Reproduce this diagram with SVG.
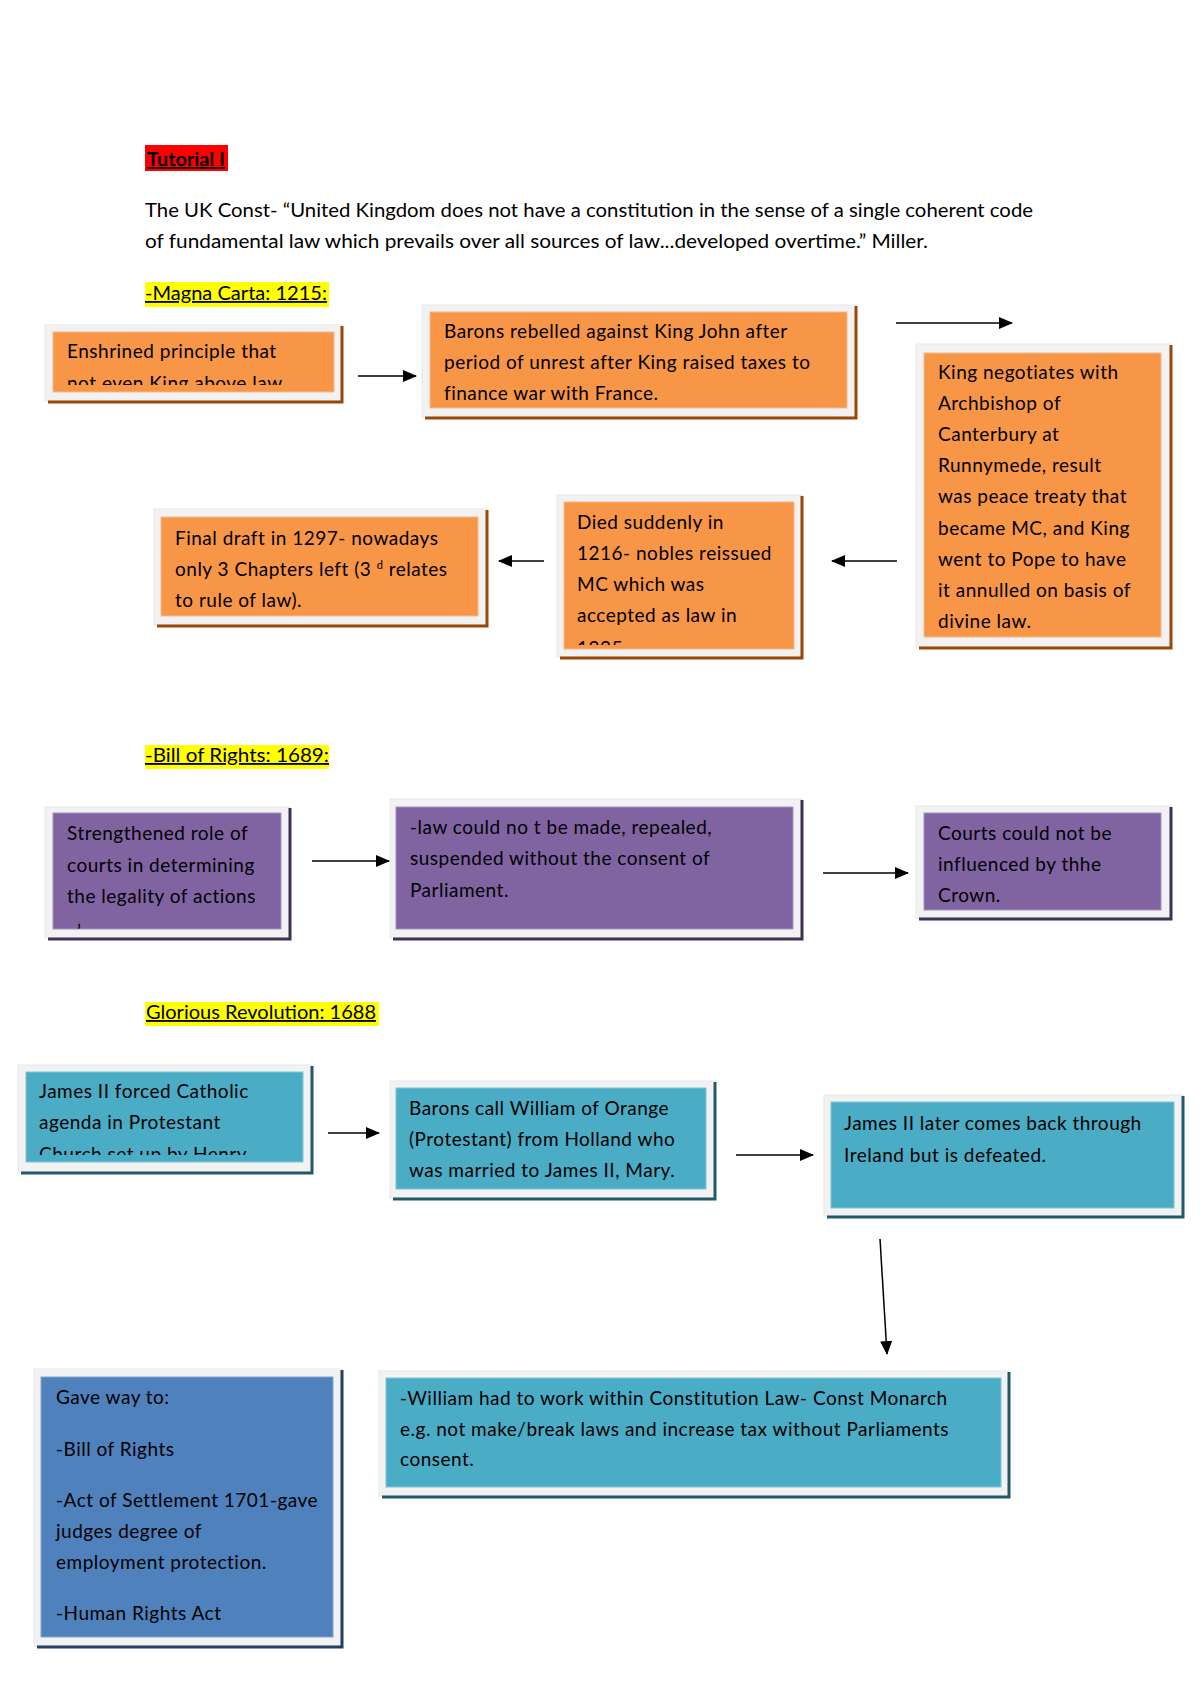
<svg xmlns="http://www.w3.org/2000/svg" width="1200" height="1698" viewBox="0 0 1200 1698">
<style>
text{font-family:Lato,"Open Sans","Liberation Sans",sans-serif;fill:#000}
.t{font-size:19px;letter-spacing:0.5px}
.h{font-size:18.5px}
.u{text-decoration:underline}
.b{font-weight:bold}
.frame{fill:#F2F2F2;stroke:#E8E8E8;stroke-width:1}
.or{fill:#F79646;stroke:#FAB88A;stroke-width:1}
.pu{fill:#8064A2;stroke:#A592BE;stroke-width:1}
.te{fill:#4BACC6;stroke:#7FC5D8;stroke-width:1}
.bl{fill:#4F81BD;stroke:#7FA3CF;stroke-width:1}
.orS{fill:none;stroke:#984807;stroke-width:3}
.puS{fill:none;stroke:#3F3151;stroke-width:3}
.teS{fill:none;stroke:#215968;stroke-width:3}
.blS{fill:none;stroke:#243F60;stroke-width:3}
.c{fill:none;stroke:#000;stroke-width:1.5;marker-end:url(#ah)}
</style>
<defs>
<marker id="ah" markerUnits="userSpaceOnUse" markerWidth="14" markerHeight="12" refX="13" refY="6" orient="auto">
<path d="M0,0 L14,6 L0,12 Z" fill="#000"/>
</marker>
<clipPath id="c1"><rect x="53" y="332" width="281" height="53"/></clipPath>
<clipPath id="c4"><rect x="564" y="502" width="230" height="143"/></clipPath>
<clipPath id="c6"><rect x="53" y="813" width="228" height="116"/></clipPath>
<clipPath id="c9"><rect x="26" y="1072" width="277" height="83"/></clipPath>
</defs>
<rect width="1200" height="1698" fill="#fff"/>

<g id="header">
<rect x="145" y="145" width="83" height="26" fill="#FF0000"/>
<text class="h b u" x="147" y="166" textLength="78" lengthAdjust="spacingAndGlyphs">Tutorial I</text>
<text class="h" x="145" y="217" textLength="888" lengthAdjust="spacingAndGlyphs">The UK Const- “United Kingdom does not have a constitution in the sense of a single coherent code</text>
<text class="h" x="145" y="248" textLength="783" lengthAdjust="spacingAndGlyphs">of fundamental law which prevails over all sources of law...developed overtime.” Miller.</text>
</g>

<g id="heading-magna">
<rect x="145" y="282" width="184" height="25" fill="#FFFF00"/>
<text class="h u" x="145" y="300" textLength="182" lengthAdjust="spacingAndGlyphs">-Magna Carta: 1215:</text>
</g>

<g id="n1">
<rect class="frame" x="45" y="325" width="297" height="76"/>
<rect class="or" x="53" y="332" width="281" height="60"/>
<path class="orS" d="M48,402 L342,402 L342,326"/>
<g clip-path="url(#c1)">
<text class="t" x="67" y="358">Enshrined principle that</text>
<text class="t" x="67" y="390">not even King above law</text>
</g>
</g>

<g id="n2">
<rect class="frame" x="422" y="305" width="434" height="112"/>
<rect class="or" x="430" y="312" width="417" height="96"/>
<path class="orS" d="M425,418 L856,418 L856,306"/>
<text class="t" x="444" y="338">Barons rebelled against King John after</text>
<text class="t" x="444" y="369">period of unrest after King raised taxes to</text>
<text class="t" x="444" y="400">finance war with France.</text>
</g>

<g id="n3">
<rect class="frame" x="916" y="344" width="255" height="303"/>
<rect class="or" x="924" y="353" width="237" height="284"/>
<path class="orS" d="M919,648 L1171,648 L1171,345"/>
<text class="t" x="938" y="379">King negotiates with</text>
<text class="t" x="938" y="410">Archbishop of</text>
<text class="t" x="938" y="441">Canterbury at</text>
<text class="t" x="938" y="472">Runnymede, result</text>
<text class="t" x="938" y="503">was peace treaty that</text>
<text class="t" x="938" y="535">became MC, and King</text>
<text class="t" x="938" y="566">went to Pope to have</text>
<text class="t" x="938" y="597">it annulled on basis of</text>
<text class="t" x="938" y="628">divine law.</text>
</g>

<g id="n4">
<rect class="frame" x="557" y="495" width="245" height="162"/>
<rect class="or" x="564" y="502" width="230" height="147"/>
<path class="orS" d="M560,658 L802,658 L802,496"/>
<g clip-path="url(#c4)">
<text class="t" x="577" y="529">Died suddenly in</text>
<text class="t" x="577" y="560">1216- nobles reissued</text>
<text class="t" x="577" y="591">MC which was</text>
<text class="t" x="577" y="622">accepted as law in</text>
<text class="t" x="577" y="655">1225.</text>
</g>
</g>

<g id="n5">
<rect class="frame" x="154" y="509" width="333" height="116"/>
<rect class="or" x="161" y="517" width="317" height="99"/>
<path class="orS" d="M157,626 L487,626 L487,510"/>
<text class="t" x="175" y="545">Final draft in 1297- nowadays</text>
<text class="t" x="175" y="576">only 3 Chapters left (3 <tspan font-size="11" dy="-7">d</tspan><tspan dy="7"> relates</tspan></text>
<text class="t" x="175" y="607">to rule of law).</text>
</g>

<g id="heading-bill">
<rect x="145" y="745" width="184" height="24" fill="#FFFF00"/>
<text class="h u" x="145" y="762" textLength="184" lengthAdjust="spacingAndGlyphs">-Bill of Rights: 1689: </text>
</g>

<g id="n6">
<rect class="frame" x="45" y="807" width="245" height="131"/>
<rect class="pu" x="53" y="813" width="228" height="116"/>
<path class="puS" d="M48,939 L290,939 L290,808"/>
<g clip-path="url(#c6)">
<text class="t" x="67" y="840">Strengthened role of</text>
<text class="t" x="67" y="872">courts in determining</text>
<text class="t" x="67" y="903">the legality of actions</text>
<text class="t" x="77" y="926" font-size="14">‚</text>
</g>
</g>

<g id="n7">
<rect class="frame" x="390" y="799" width="412" height="139"/>
<rect class="pu" x="396" y="807" width="397" height="122"/>
<path class="puS" d="M393,939 L802,939 L802,800"/>
<text class="t" x="410" y="834">-law could no t be made, repealed,</text>
<text class="t" x="410" y="865">suspended without the consent of</text>
<text class="t" x="410" y="897">Parliament.</text>
</g>

<g id="n8">
<rect class="frame" x="916" y="806" width="255" height="112"/>
<rect class="pu" x="924" y="813" width="237" height="97"/>
<path class="puS" d="M919,919 L1171,919 L1171,807"/>
<text class="t" x="938" y="840">Courts could not be</text>
<text class="t" x="938" y="871">influenced by thhe</text>
<text class="t" x="938" y="902">Crown.</text>
</g>

<g id="heading-glorious">
<rect x="145" y="1002" width="234" height="24" fill="#FFFF00"/>
<text class="h u" x="146" y="1019" textLength="230" lengthAdjust="spacingAndGlyphs">Glorious Revolution: 1688</text>
</g>

<g id="n9">
<rect class="frame" x="18" y="1065" width="294" height="107"/>
<rect class="te" x="26" y="1072" width="277" height="90"/>
<path class="teS" d="M21,1173 L312,1173 L312,1066"/>
<g clip-path="url(#c9)">
<text class="t" x="39" y="1098">James II forced Catholic</text>
<text class="t" x="39" y="1129">agenda in Protestant</text>
<text class="t" x="39" y="1161">Church set up by Henry</text>
</g>
</g>

<g id="n10">
<rect class="frame" x="390" y="1081" width="325" height="117"/>
<rect class="te" x="396" y="1088" width="310" height="101"/>
<path class="teS" d="M393,1199 L715,1199 L715,1082"/>
<text class="t" x="409" y="1115">Barons call William of Orange</text>
<text class="t" x="409" y="1146">(Protestant) from Holland who</text>
<text class="t" x="409" y="1177">was married to James II, Mary.</text>
</g>

<g id="n11">
<rect class="frame" x="824" y="1095" width="359" height="121"/>
<rect class="te" x="831" y="1102" width="343" height="106"/>
<path class="teS" d="M827,1217 L1183,1217 L1183,1096"/>
<text class="t" x="844" y="1130">James II later comes back through</text>
<text class="t" x="844" y="1162">Ireland but is defeated.</text>
</g>

<g id="n12">
<rect class="frame" x="34" y="1369" width="308" height="277"/>
<rect class="bl" x="41" y="1377" width="292" height="260"/>
<path class="blS" d="M37,1647 L342,1647 L342,1370"/>
<text class="t" x="56" y="1404">Gave way to:</text>
<text class="t" x="56" y="1456">-Bill of Rights</text>
<text class="t" x="56" y="1507">-Act of Settlement 1701-gave</text>
<text class="t" x="56" y="1538">judges degree of</text>
<text class="t" x="56" y="1569">employment protection.</text>
<text class="t" x="56" y="1620">-Human Rights Act</text>
</g>

<g id="n13">
<rect class="frame" x="379" y="1371" width="630" height="125"/>
<rect class="te" x="386" y="1378" width="615" height="109"/>
<path class="teS" d="M382,1497 L1009,1497 L1009,1372"/>
<text class="t" x="400" y="1405">-William had to work within Constitution Law- Const Monarch</text>
<text class="t" x="400" y="1436">e.g. not make/break laws and increase tax without Parliaments</text>
<text class="t" x="400" y="1466">consent.</text>
</g>

<g id="connectors">
<line class="c" x1="358" y1="376" x2="416" y2="376"/>
<line class="c" x1="896" y1="323" x2="1012" y2="323"/>
<line class="c" x1="897" y1="561" x2="832" y2="561"/>
<line class="c" x1="544" y1="561" x2="499" y2="561"/>
<line class="c" x1="312" y1="861" x2="389" y2="861"/>
<line class="c" x1="823" y1="873" x2="908" y2="873"/>
<line class="c" x1="328" y1="1133" x2="379" y2="1133"/>
<line class="c" x1="736" y1="1155" x2="813" y2="1155"/>
<line class="c" x1="880" y1="1239" x2="887" y2="1354"/>
</g>
</svg>
